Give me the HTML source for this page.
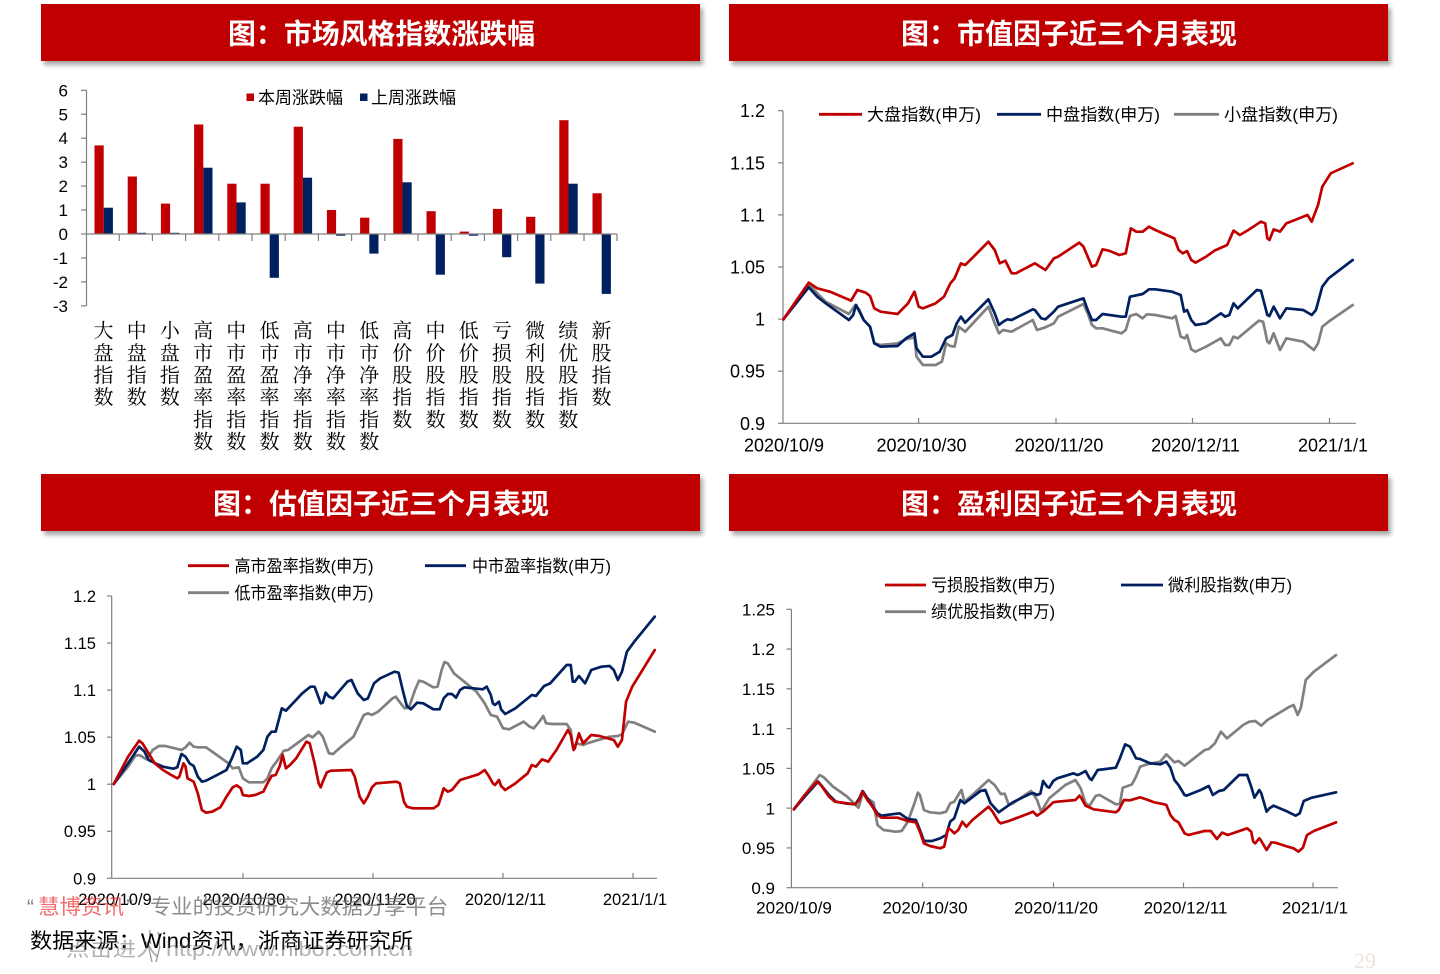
<!DOCTYPE html>
<html><head><meta charset="utf-8"><style>
html,body{margin:0;padding:0;background:#fff;}
svg{display:block;}
.t{font-family:"Liberation Sans","Noto Sans CJK SC",sans-serif;fill:#000;}
.cj{font-family:"Liberation Sans","Noto Sans CJK SC",sans-serif;fill:#000;}
.ti{font-family:"Noto Sans CJK SC","Liberation Sans",sans-serif;font-weight:bold;fill:#fff;font-size:28px;}
.vl{font-family:"Noto Serif CJK SC","Liberation Serif",serif;font-size:20px;fill:#000;}
.ax{stroke:#808080;stroke-width:1.2;fill:none;}
.ln{fill:none;stroke-width:2.7;stroke-linejoin:round;stroke-linecap:round;}
</style></head><body>
<svg width="1440" height="974" viewBox="0 0 1440 974" xmlns="http://www.w3.org/2000/svg">
<defs>
<filter id="sh" x="-5%" y="-20%" width="115%" height="160%"><feDropShadow dx="3" dy="4" stdDeviation="2.5" flood-color="#000" flood-opacity="0.35"/></filter>
</defs>

<!-- Title bars -->
<rect x="41" y="4" width="659" height="57" fill="#C00000" filter="url(#sh)"/>
<rect x="729" y="4" width="659" height="57" fill="#C00000" filter="url(#sh)"/>
<rect x="41" y="474" width="659" height="57" fill="#C00000" filter="url(#sh)"/>
<rect x="729" y="474" width="659" height="57" fill="#C00000" filter="url(#sh)"/>
<text class="ti" x="228" y="43.5" textLength="307" lengthAdjust="spacingAndGlyphs">图：市场风格指数涨跌幅</text>
<text class="ti" x="901" y="43.5" textLength="336" lengthAdjust="spacingAndGlyphs">图：市值因子近三个月表现</text>
<text class="ti" x="213" y="513.5" textLength="336" lengthAdjust="spacingAndGlyphs">图：估值因子近三个月表现</text>
<text class="ti" x="901" y="513.5" textLength="336" lengthAdjust="spacingAndGlyphs">图：盈利因子近三个月表现</text>

<!-- ============ Top-left bar chart ============ -->
<g class="t" font-size="17" text-anchor="end">
<text x="68" y="96.3">6</text><text x="68" y="120.3">5</text><text x="68" y="144.2">4</text><text x="68" y="168.2">3</text><text x="68" y="192.1">2</text><text x="68" y="216">1</text><text x="68" y="240">0</text><text x="68" y="264">-1</text><text x="68" y="287.9">-2</text><text x="68" y="311.9">-3</text>
</g>
<g stroke="#7f7f7f" stroke-width="1.2" fill="none">
<line x1="86.5" y1="90.3" x2="86.5" y2="306"/>
<line x1="81" y1="90.3" x2="86.5" y2="90.3"/><line x1="81" y1="114.25" x2="86.5" y2="114.25"/><line x1="81" y1="138.2" x2="86.5" y2="138.2"/><line x1="81" y1="162.15" x2="86.5" y2="162.15"/><line x1="81" y1="186.1" x2="86.5" y2="186.1"/><line x1="81" y1="210.05" x2="86.5" y2="210.05"/><line x1="81" y1="234" x2="86.5" y2="234"/><line x1="81" y1="257.95" x2="86.5" y2="257.95"/><line x1="81" y1="281.9" x2="86.5" y2="281.9"/><line x1="81" y1="305.85" x2="86.5" y2="305.85"/>
</g>
<!-- bars -->
<g fill="#C00000">
<rect x="94.5" y="145.4" width="9.2" height="88.6"/>
<rect x="127.7" y="176.5" width="9.2" height="57.5"/>
<rect x="160.9" y="203.6" width="9.2" height="30.4"/>
<rect x="194.1" y="124.5" width="9.2" height="109.5"/>
<rect x="227.3" y="183.7" width="9.2" height="50.3"/>
<rect x="260.5" y="183.7" width="9.2" height="50.3"/>
<rect x="293.7" y="126.7" width="9.2" height="107.3"/>
<rect x="326.9" y="210" width="9.2" height="24"/>
<rect x="360.1" y="217.7" width="9.2" height="16.3"/>
<rect x="393.3" y="138.9" width="9.2" height="95.1"/>
<rect x="426.5" y="211.2" width="9.2" height="22.8"/>
<rect x="459.7" y="231.6" width="9.2" height="2.4"/>
<rect x="492.9" y="208.9" width="9.2" height="25.1"/>
<rect x="526.1" y="216.8" width="9.2" height="17.2"/>
<rect x="559.3" y="120.2" width="9.2" height="113.8"/>
<rect x="592.5" y="193.3" width="9.2" height="40.7"/>
</g>
<g fill="#002060">
<rect x="103.7" y="207.7" width="9.2" height="26.3"/>
<rect x="136.9" y="232.8" width="9.2" height="1.2"/>
<rect x="170.1" y="232.8" width="9.2" height="1.2"/>
<rect x="203.3" y="167.7" width="9.2" height="66.3"/>
<rect x="236.5" y="202.4" width="9.2" height="31.6"/>
<rect x="269.7" y="234" width="9.2" height="43.8"/>
<rect x="302.9" y="177.7" width="9.2" height="56.3"/>
<rect x="336.1" y="234" width="9.2" height="1.7"/>
<rect x="369.3" y="234" width="9.2" height="19.6"/>
<rect x="402.5" y="182.3" width="9.2" height="51.7"/>
<rect x="435.7" y="234" width="9.2" height="40.7"/>
<rect x="468.9" y="234" width="9.2" height="1.7"/>
<rect x="502.1" y="234" width="9.2" height="23.2"/>
<rect x="535.3" y="234" width="9.2" height="49.6"/>
<rect x="568.5" y="183.7" width="9.2" height="50.3"/>
<rect x="601.7" y="234" width="9.2" height="59.9"/>
</g>
<g stroke="#7f7f7f" stroke-width="1.2">
<line x1="86" y1="234" x2="617" y2="234"/>
<line x1="119.2" y1="234" x2="119.2" y2="241"/><line x1="152.4" y1="234" x2="152.4" y2="241"/><line x1="185.6" y1="234" x2="185.6" y2="241"/><line x1="218.8" y1="234" x2="218.8" y2="241"/><line x1="252" y1="234" x2="252" y2="241"/><line x1="285.2" y1="234" x2="285.2" y2="241"/><line x1="318.4" y1="234" x2="318.4" y2="241"/><line x1="351.6" y1="234" x2="351.6" y2="241"/><line x1="384.8" y1="234" x2="384.8" y2="241"/><line x1="418" y1="234" x2="418" y2="241"/><line x1="451.2" y1="234" x2="451.2" y2="241"/><line x1="484.4" y1="234" x2="484.4" y2="241"/><line x1="517.6" y1="234" x2="517.6" y2="241"/><line x1="550.8" y1="234" x2="550.8" y2="241"/><line x1="584" y1="234" x2="584" y2="241"/><line x1="617" y1="234" x2="617" y2="241"/>
</g>
<!-- legend -->
<rect x="246.5" y="93.5" width="7.5" height="7.5" fill="#C00000"/>
<text class="cj" x="258" y="103.5" font-size="17" textLength="85" lengthAdjust="spacingAndGlyphs">本周涨跌幅</text>
<rect x="360" y="93.5" width="7.5" height="7.5" fill="#002060"/>
<text class="cj" x="371" y="103.5" font-size="17" textLength="85" lengthAdjust="spacingAndGlyphs">上周涨跌幅</text>
<!-- vertical category labels -->
<g class="vl" text-anchor="middle">
<text x="103.5" y="337.6"><tspan x="103.5">大</tspan><tspan x="103.5" dy="22.2">盘</tspan><tspan x="103.5" dy="22.2">指</tspan><tspan x="103.5" dy="22.2">数</tspan></text>
<text x="136.7" y="337.6"><tspan x="136.7">中</tspan><tspan x="136.7" dy="22.2">盘</tspan><tspan x="136.7" dy="22.2">指</tspan><tspan x="136.7" dy="22.2">数</tspan></text>
<text x="169.9" y="337.6"><tspan x="169.9">小</tspan><tspan x="169.9" dy="22.2">盘</tspan><tspan x="169.9" dy="22.2">指</tspan><tspan x="169.9" dy="22.2">数</tspan></text>
<text x="203.1" y="337.6"><tspan x="203.1">高</tspan><tspan x="203.1" dy="22.2">市</tspan><tspan x="203.1" dy="22.2">盈</tspan><tspan x="203.1" dy="22.2">率</tspan><tspan x="203.1" dy="22.2">指</tspan><tspan x="203.1" dy="22.2">数</tspan></text>
<text x="236.3" y="337.6"><tspan x="236.3">中</tspan><tspan x="236.3" dy="22.2">市</tspan><tspan x="236.3" dy="22.2">盈</tspan><tspan x="236.3" dy="22.2">率</tspan><tspan x="236.3" dy="22.2">指</tspan><tspan x="236.3" dy="22.2">数</tspan></text>
<text x="269.5" y="337.6"><tspan x="269.5">低</tspan><tspan x="269.5" dy="22.2">市</tspan><tspan x="269.5" dy="22.2">盈</tspan><tspan x="269.5" dy="22.2">率</tspan><tspan x="269.5" dy="22.2">指</tspan><tspan x="269.5" dy="22.2">数</tspan></text>
<text x="302.7" y="337.6"><tspan x="302.7">高</tspan><tspan x="302.7" dy="22.2">市</tspan><tspan x="302.7" dy="22.2">净</tspan><tspan x="302.7" dy="22.2">率</tspan><tspan x="302.7" dy="22.2">指</tspan><tspan x="302.7" dy="22.2">数</tspan></text>
<text x="335.9" y="337.6"><tspan x="335.9">中</tspan><tspan x="335.9" dy="22.2">市</tspan><tspan x="335.9" dy="22.2">净</tspan><tspan x="335.9" dy="22.2">率</tspan><tspan x="335.9" dy="22.2">指</tspan><tspan x="335.9" dy="22.2">数</tspan></text>
<text x="369.1" y="337.6"><tspan x="369.1">低</tspan><tspan x="369.1" dy="22.2">市</tspan><tspan x="369.1" dy="22.2">净</tspan><tspan x="369.1" dy="22.2">率</tspan><tspan x="369.1" dy="22.2">指</tspan><tspan x="369.1" dy="22.2">数</tspan></text>
<text x="402.3" y="337.6"><tspan x="402.3">高</tspan><tspan x="402.3" dy="22.2">价</tspan><tspan x="402.3" dy="22.2">股</tspan><tspan x="402.3" dy="22.2">指</tspan><tspan x="402.3" dy="22.2">数</tspan></text>
<text x="435.5" y="337.6"><tspan x="435.5">中</tspan><tspan x="435.5" dy="22.2">价</tspan><tspan x="435.5" dy="22.2">股</tspan><tspan x="435.5" dy="22.2">指</tspan><tspan x="435.5" dy="22.2">数</tspan></text>
<text x="468.7" y="337.6"><tspan x="468.7">低</tspan><tspan x="468.7" dy="22.2">价</tspan><tspan x="468.7" dy="22.2">股</tspan><tspan x="468.7" dy="22.2">指</tspan><tspan x="468.7" dy="22.2">数</tspan></text>
<text x="501.9" y="337.6"><tspan x="501.9">亏</tspan><tspan x="501.9" dy="22.2">损</tspan><tspan x="501.9" dy="22.2">股</tspan><tspan x="501.9" dy="22.2">指</tspan><tspan x="501.9" dy="22.2">数</tspan></text>
<text x="535.1" y="337.6"><tspan x="535.1">微</tspan><tspan x="535.1" dy="22.2">利</tspan><tspan x="535.1" dy="22.2">股</tspan><tspan x="535.1" dy="22.2">指</tspan><tspan x="535.1" dy="22.2">数</tspan></text>
<text x="568.3" y="337.6"><tspan x="568.3">绩</tspan><tspan x="568.3" dy="22.2">优</tspan><tspan x="568.3" dy="22.2">股</tspan><tspan x="568.3" dy="22.2">指</tspan><tspan x="568.3" dy="22.2">数</tspan></text>
<text x="601.5" y="337.6"><tspan x="601.5">新</tspan><tspan x="601.5" dy="22.2">股</tspan><tspan x="601.5" dy="22.2">指</tspan><tspan x="601.5" dy="22.2">数</tspan></text>
</g>

<!-- ============ Top-right line chart ============ -->
<g class="t" font-size="18" text-anchor="end">
<text x="765" y="117.2">1.2</text><text x="765" y="169.3">1.15</text><text x="765" y="221.4">1.1</text><text x="765" y="273.5">1.05</text><text x="765" y="325.6">1</text><text x="765" y="377.7">0.95</text><text x="765" y="429.8">0.9</text>
</g>
<g class="t" font-size="18" text-anchor="middle">
<text x="784" y="451.5">2020/10/9</text><text x="921.5" y="451.5">2020/10/30</text><text x="1059" y="451.5">2020/11/20</text><text x="1195.5" y="451.5">2020/12/11</text><text x="1333" y="451.5">2021/1/1</text>
</g>
<g class="ax">
<line x1="783" y1="110.7" x2="783" y2="423.3"/>
<line x1="778" y1="110.7" x2="783" y2="110.7"/><line x1="778" y1="162.8" x2="783" y2="162.8"/><line x1="778" y1="214.9" x2="783" y2="214.9"/><line x1="778" y1="267" x2="783" y2="267"/><line x1="778" y1="319.1" x2="783" y2="319.1"/><line x1="778" y1="371.2" x2="783" y2="371.2"/><line x1="778" y1="423.3" x2="783" y2="423.3"/>
<line x1="783" y1="423.3" x2="1356" y2="423.3"/>
<line x1="918.6" y1="418" x2="918.6" y2="423.3"/><line x1="1056" y1="418" x2="1056" y2="423.3"/><line x1="1192.5" y1="418" x2="1192.5" y2="423.3"/><line x1="1329.5" y1="418" x2="1329.5" y2="423.3"/>
</g>
<g transform="translate(720,90) scale(0.42265,0.33333)">
<polyline class="ln" vector-effect="non-scaling-stroke" stroke="#808080" points="150,688 210,582 230,610 250,635 305,672 320,645 330,660 340,690 355,710 365,760 380,765 420,760 440,748 460,742 465,800 480,825 510,825 525,815 535,760 545,768 555,770 565,710 580,725 635,650 650,700 660,730 670,720 690,725 740,690 750,720 770,712 790,700 800,680 860,642 870,670 880,705 890,715 905,715 950,730 960,720 970,678 985,672 1000,685 1010,673 1030,675 1070,685 1078,678 1090,740 1100,745 1105,735 1115,778 1125,785 1150,770 1185,745 1195,765 1205,765 1215,740 1225,745 1275,692 1285,695 1295,755 1300,760 1310,730 1325,780 1340,745 1380,755 1395,770 1405,780 1415,760 1425,710 1440,695 1497,645"/>
<polyline class="ln" vector-effect="non-scaling-stroke" stroke="#002060" points="150,688 210,592 230,620 250,640 305,690 315,675 322,645 330,665 340,690 355,710 365,760 380,770 420,768 440,745 460,730 465,775 480,800 500,800 520,785 535,745 550,735 560,700 570,680 580,698 635,628 650,670 660,705 670,695 680,688 690,690 740,658 745,660 760,685 770,688 790,665 800,650 860,625 870,660 880,690 890,690 905,672 950,680 960,680 970,620 1000,612 1015,598 1030,598 1070,605 1075,608 1090,615 1098,665 1105,660 1115,690 1125,705 1150,700 1185,670 1195,680 1205,675 1215,640 1225,655 1270,600 1280,602 1295,675 1300,678 1310,650 1325,685 1340,655 1380,660 1400,675 1410,660 1425,590 1440,565 1497,510"/>
<polyline class="ln" vector-effect="non-scaling-stroke" stroke="#C00000" points="150,688 210,578 230,595 260,605 310,632 325,600 345,608 355,618 365,655 380,665 420,672 445,640 460,605 470,650 480,655 510,640 530,620 545,580 555,565 570,520 580,525 600,500 635,455 650,480 662,520 675,512 690,550 700,550 745,520 770,540 790,505 800,500 850,458 860,470 880,530 890,525 905,478 920,482 945,495 960,490 972,415 985,425 1000,425 1015,410 1030,420 1075,445 1085,480 1095,490 1105,483 1115,510 1125,518 1150,500 1170,482 1200,465 1215,422 1230,435 1250,420 1280,395 1290,400 1295,445 1300,450 1310,418 1325,425 1340,400 1390,375 1400,395 1415,345 1425,290 1445,250 1497,220"/>
</g>
<!-- legend TR -->
<line x1="819" y1="114.3" x2="862" y2="114.3" stroke="#C00000" stroke-width="2.8"/>
<text class="cj" x="867" y="120.3" font-size="17" textLength="114" lengthAdjust="spacingAndGlyphs">大盘指数(申万)</text>
<line x1="997" y1="114.3" x2="1041" y2="114.3" stroke="#002060" stroke-width="2.8"/>
<text class="cj" x="1046" y="120.3" font-size="17" textLength="114" lengthAdjust="spacingAndGlyphs">中盘指数(申万)</text>
<line x1="1174" y1="114.3" x2="1219" y2="114.3" stroke="#808080" stroke-width="2.8"/>
<text class="cj" x="1224" y="120.3" font-size="17" textLength="114" lengthAdjust="spacingAndGlyphs">小盘指数(申万)</text>

<!-- ============ Bottom-left line chart ============ -->
<g class="t" font-size="16.5" text-anchor="end">
<text x="96" y="602">1.2</text><text x="96" y="649">1.15</text><text x="96" y="696.1">1.1</text><text x="96" y="743.1">1.05</text><text x="96" y="790.2">1</text><text x="96" y="837.2">0.95</text><text x="96" y="884.3">0.9</text>
</g>
<g class="t" font-size="16.5" text-anchor="middle">
<text x="115" y="905">2020/10/9</text><text x="244" y="905">2020/10/30</text><text x="375" y="905">2020/11/20</text><text x="505.5" y="905">2020/12/11</text><text x="635" y="905">2021/1/1</text>
</g>
<g class="ax">
<line x1="111.7" y1="596" x2="111.7" y2="878.3"/>
<line x1="107" y1="596" x2="111.7" y2="596"/><line x1="107" y1="643.05" x2="111.7" y2="643.05"/><line x1="107" y1="690.1" x2="111.7" y2="690.1"/><line x1="107" y1="737.15" x2="111.7" y2="737.15"/><line x1="107" y1="784.2" x2="111.7" y2="784.2"/><line x1="107" y1="831.25" x2="111.7" y2="831.25"/><line x1="107" y1="878.3" x2="111.7" y2="878.3"/>
<line x1="111.7" y1="878.3" x2="657" y2="878.3"/>
<line x1="243" y1="873" x2="243" y2="878.3"/><line x1="373" y1="873" x2="373" y2="878.3"/><line x1="503" y1="873" x2="503" y2="878.3"/><line x1="633" y1="873" x2="633" y2="878.3"/>
</g>
<g transform="translate(40,550) scale(0.40984,0.33333)">
<polyline class="ln" vector-effect="non-scaling-stroke" stroke="#808080" points="180,702 215,650 232,618 242,615 260,628 275,600 290,588 305,588 345,600 355,592 365,578 375,590 385,592 405,592 435,618 460,640 470,655 485,652 495,685 510,697 545,697 555,685 565,655 580,630 595,602 605,600 655,555 665,562 680,545 690,560 705,610 715,612 735,590 765,560 790,495 800,490 810,495 825,485 860,445 868,440 880,460 890,475 900,473 915,420 925,392 935,395 960,412 970,410 980,360 987,336 995,340 1010,370 1040,400 1065,425 1085,460 1100,495 1115,500 1130,535 1145,538 1180,515 1195,530 1205,535 1220,512 1228,498 1235,520 1250,522 1285,522 1295,540 1300,590 1310,580 1325,585 1340,578 1390,560 1410,558 1420,553 1435,515 1450,518 1500,545"/>
<polyline class="ln" vector-effect="non-scaling-stroke" stroke="#002060" points="180,702 215,640 242,590 255,605 265,630 285,642 300,650 325,656 335,652 345,612 355,620 365,640 375,648 385,680 395,695 405,692 440,670 455,660 470,620 480,590 490,600 495,640 505,640 530,620 545,600 555,560 565,545 575,545 590,475 600,482 640,430 660,410 670,410 685,460 690,458 697,428 705,440 715,445 750,395 760,390 775,430 790,450 800,445 815,400 830,385 865,365 875,368 885,420 895,468 905,478 920,458 935,460 960,478 975,478 985,445 995,432 1005,432 1015,443 1025,420 1035,412 1080,418 1090,410 1100,435 1105,460 1110,465 1120,455 1125,478 1135,492 1160,475 1200,435 1210,438 1230,408 1245,400 1285,345 1295,345 1300,395 1305,395 1315,378 1330,400 1345,360 1370,350 1390,348 1400,360 1410,390 1420,365 1432,305 1450,275 1500,200"/>
<polyline class="ln" vector-effect="non-scaling-stroke" stroke="#C00000" points="180,702 215,620 242,572 250,580 265,610 280,640 300,660 320,675 335,685 340,680 350,640 355,650 360,685 375,695 385,730 395,780 405,788 420,785 440,772 455,740 470,712 480,706 490,715 495,735 510,738 525,735 545,725 555,700 565,678 575,675 585,648 592,615 600,655 610,645 625,625 650,575 658,580 670,640 680,700 685,712 690,695 700,667 710,662 760,660 768,680 780,740 790,760 800,740 810,712 820,700 870,695 878,700 888,755 895,770 910,775 960,775 972,765 980,735 985,715 995,725 1005,720 1025,690 1070,673 1085,660 1095,678 1105,700 1110,705 1120,690 1125,708 1135,720 1160,700 1190,670 1200,645 1210,650 1225,628 1240,635 1260,600 1288,540 1295,555 1302,600 1305,595 1315,550 1325,580 1345,555 1365,558 1385,565 1400,570 1410,590 1420,570 1430,455 1445,410 1500,300"/>
</g>
<line x1="188" y1="565.7" x2="229" y2="565.7" stroke="#C00000" stroke-width="2.8"/>
<text class="cj" x="234.5" y="571.8" font-size="17" textLength="139" lengthAdjust="spacingAndGlyphs">高市盈率指数(申万)</text>
<line x1="425" y1="565.7" x2="466" y2="565.7" stroke="#002060" stroke-width="2.8"/>
<text class="cj" x="472" y="571.8" font-size="17" textLength="139" lengthAdjust="spacingAndGlyphs">中市盈率指数(申万)</text>
<line x1="188" y1="592.7" x2="229" y2="592.7" stroke="#808080" stroke-width="2.8"/>
<text class="cj" x="234.5" y="598.8" font-size="17" textLength="139" lengthAdjust="spacingAndGlyphs">低市盈率指数(申万)</text>

<!-- ============ Bottom-right line chart ============ -->
<g class="t" font-size="17" text-anchor="end">
<text x="775" y="615.5">1.25</text><text x="775" y="655.2">1.2</text><text x="775" y="695">1.15</text><text x="775" y="734.8">1.1</text><text x="775" y="774.5">1.05</text><text x="775" y="814.3">1</text><text x="775" y="854.1">0.95</text><text x="775" y="893.9">0.9</text>
</g>
<g class="t" font-size="17" text-anchor="middle">
<text x="794" y="913.5">2020/10/9</text><text x="925" y="913.5">2020/10/30</text><text x="1056" y="913.5">2020/11/20</text><text x="1185.5" y="913.5">2020/12/11</text><text x="1315" y="913.5">2021/1/1</text>
</g>
<g class="ax">
<line x1="791.4" y1="609.3" x2="791.4" y2="887.7"/>
<line x1="786.5" y1="609.3" x2="791.4" y2="609.3"/><line x1="786.5" y1="649.07" x2="791.4" y2="649.07"/><line x1="786.5" y1="688.84" x2="791.4" y2="688.84"/><line x1="786.5" y1="728.61" x2="791.4" y2="728.61"/><line x1="786.5" y1="768.38" x2="791.4" y2="768.38"/><line x1="786.5" y1="808.15" x2="791.4" y2="808.15"/><line x1="786.5" y1="847.92" x2="791.4" y2="847.92"/><line x1="786.5" y1="887.7" x2="791.4" y2="887.7"/>
<line x1="791.4" y1="887.7" x2="1338" y2="887.7"/>
<line x1="922.7" y1="882.5" x2="922.7" y2="887.7"/><line x1="1053.5" y1="882.5" x2="1053.5" y2="887.7"/><line x1="1183.5" y1="882.5" x2="1183.5" y2="887.7"/><line x1="1313" y1="882.5" x2="1313" y2="887.7"/>
</g>
<g transform="translate(730,565) scale(0.40404,0.33333)">
<polyline class="ln" vector-effect="non-scaling-stroke" stroke="#808080" points="158,733 185,690 222,630 232,637 255,665 290,695 318,728 330,680 340,700 355,712 365,780 380,795 410,800 425,798 440,770 455,720 465,683 470,690 480,735 495,742 520,745 535,740 545,715 555,710 565,690 573,675 580,710 600,690 640,645 655,660 670,687 680,686 690,720 700,715 745,678 760,705 770,740 780,720 790,700 830,660 855,645 868,670 880,715 890,722 905,693 915,690 955,718 965,717 972,668 980,665 995,658 1005,635 1015,605 1035,597 1065,590 1080,568 1090,580 1100,592 1110,588 1125,602 1175,555 1185,552 1200,535 1215,500 1230,520 1270,480 1285,470 1300,468 1315,482 1330,465 1385,425 1395,420 1405,450 1413,428 1425,345 1445,320 1500,270"/>
<polyline class="ln" vector-effect="non-scaling-stroke" stroke="#002060" points="158,733 185,695 218,650 225,660 245,690 262,710 290,716 310,718 320,700 328,678 340,700 350,718 365,745 375,752 400,748 420,745 440,762 460,765 470,795 480,828 500,828 520,820 535,810 545,770 555,760 570,705 580,715 620,678 632,675 645,715 665,742 700,712 740,688 750,684 760,690 768,686 775,648 785,665 790,668 800,648 810,640 850,625 860,630 865,628 880,618 890,640 895,645 910,615 930,612 955,608 965,580 978,538 990,545 1005,580 1015,582 1040,595 1065,598 1080,590 1090,608 1100,645 1110,660 1125,690 1130,692 1165,675 1185,663 1195,690 1210,678 1222,675 1260,630 1280,630 1290,665 1298,698 1310,675 1315,685 1328,740 1335,730 1345,722 1380,740 1400,752 1410,745 1420,708 1440,698 1500,682"/>
<polyline class="ln" vector-effect="non-scaling-stroke" stroke="#C00000" points="158,733 185,690 215,650 225,660 245,695 260,710 290,715 310,718 320,705 328,680 340,705 350,720 365,750 375,758 415,758 440,768 460,772 470,800 480,835 495,843 520,850 530,845 540,790 547,795 555,805 565,795 575,770 585,785 600,765 640,725 650,740 665,770 670,775 690,768 740,745 750,740 760,752 775,740 800,712 810,710 855,705 865,692 870,700 880,722 900,733 955,742 962,735 975,705 990,706 1015,697 1035,705 1050,712 1075,718 1080,720 1090,750 1100,765 1110,772 1125,805 1135,810 1175,798 1190,798 1205,822 1218,803 1232,810 1280,790 1290,800 1295,830 1300,835 1310,820 1315,828 1328,855 1340,832 1350,833 1375,843 1395,850 1407,860 1418,848 1428,810 1445,798 1500,772"/>
</g>
<line x1="885" y1="585" x2="926" y2="585" stroke="#C00000" stroke-width="2.8"/>
<text class="cj" x="931" y="591" font-size="17" textLength="124" lengthAdjust="spacingAndGlyphs">亏损股指数(申万)</text>
<line x1="1121" y1="585" x2="1163" y2="585" stroke="#002060" stroke-width="2.8"/>
<text class="cj" x="1168" y="591" font-size="17" textLength="124" lengthAdjust="spacingAndGlyphs">微利股指数(申万)</text>
<line x1="885" y1="611.7" x2="926" y2="611.7" stroke="#808080" stroke-width="2.8"/>
<text class="cj" x="931" y="617.7" font-size="17" textLength="124" lengthAdjust="spacingAndGlyphs">绩优股指数(申万)</text>

<!-- ============ Footer & watermark ============ -->
<text class="cj" x="30" y="948" font-size="21" textLength="383" lengthAdjust="spacingAndGlyphs">数据来源：Wind资讯，浙商证券研究所</text>
<g opacity="0.75">
<text x="27" y="914" font-size="21" font-family="Liberation Sans, Noto Sans CJK SC, sans-serif" fill="#555">“</text>
<text x="38" y="914" font-size="21" font-family="Liberation Sans, Noto Sans CJK SC, sans-serif" fill="#f03c3c" textLength="86" lengthAdjust="spacingAndGlyphs">慧博资讯</text>
<text x="126" y="914" font-size="21" font-family="Liberation Sans, Noto Sans CJK SC, sans-serif" fill="#555">”</text>
<text x="150" y="914" font-size="21" font-family="Liberation Sans, Noto Sans CJK SC, sans-serif" fill="#666" textLength="298" lengthAdjust="spacingAndGlyphs">专业的投资研究大数据分享平台</text>
</g>
<g opacity="0.45">
<text x="66" y="956" font-size="20" font-family="Liberation Sans, Noto Sans CJK SC, sans-serif" fill="#555" textLength="347" lengthAdjust="spacingAndGlyphs">点击进入  http://www.hibor.com.cn</text>
<path d="M152 962 L148 944 M156 962 L160 946 M150 930 Q149 940 151 944 M158 932 Q160 940 159 946" stroke="#222" stroke-width="1.3" fill="none"/>
</g>
<text x="1354" y="968" font-size="22" font-family="Liberation Serif, serif" fill="#ebe6d8">29</text>
</svg>
</body></html>
